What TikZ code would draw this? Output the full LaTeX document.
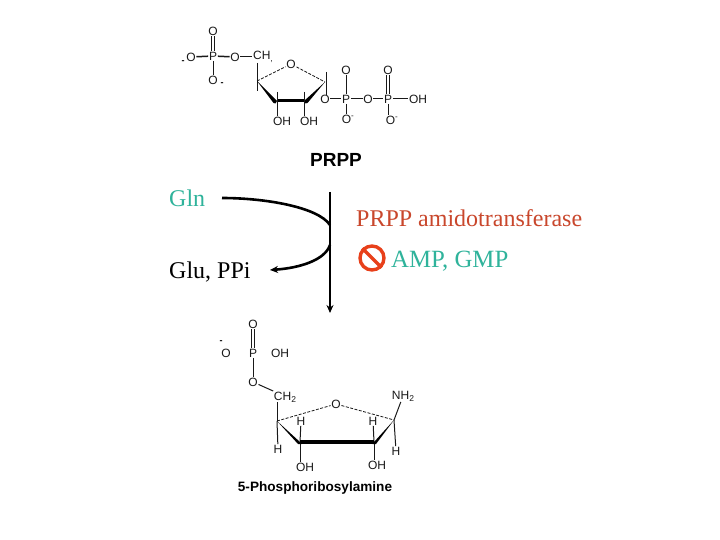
\documentclass[tikz,border=0pt]{standalone}
\usepackage{fontspec}
\setmainfont{Liberation Serif}
\setsansfont{Liberation Sans}
\usetikzlibrary{arrows.meta}
\definecolor{tealc}{HTML}{2FB39B}
\definecolor{enz}{HTML}{C9472C}
\definecolor{stopc}{HTML}{E8401A}
\newcommand{\subsc}[1]{\raisebox{-2pt}{\fontsize{8.5}{8.5}\selectfont #1}}
\tikzset{
  x=1pt,y=-1pt,
  atom/.style={inner sep=0.6pt,font=\sffamily\fontsize{12}{12}\selectfont,text=black!90},
  minusb/.style={inner sep=0pt,font=\sffamily\bfseries\fontsize{9}{9}\selectfont,text=black},
  label/.style={inner sep=0pt,font=\fontsize{24}{26}\selectfont},
  bondl/.style={draw=black!90,line width=1pt},
  dashb/.style={draw=black!90,line width=0.8pt,dash pattern=on 3pt off 1.5pt},
  heavy/.style={draw=black,line width=3.8pt},
  wedgeb/.style={fill=black,draw=none},
  rxn/.style={draw=black,line width=2.6pt},
  rxnhead/.style={-{Stealth[length=8pt,width=7pt]}},
}
\begin{document}
\begin{tikzpicture}
\useasboundingbox[fill=white] (0,0) rectangle (720,540);
% PRPP
\node[atom] (ao1) at (213,31) {O};
\node[atom] (ap1) at (213,56) {P};
\node[atom] (ao2) at (191,57) {O};
\node[minusb] (am1) at (183,62) {-};
\node[atom] (ao3) at (235,57) {O};
\node[atom] (ach) at (263,57) {CH\subsc{,}};
\node[atom] (ao4) at (213,80) {O};
\node[minusb] (am2) at (222,84) {-};
\node[atom] (aor) at (291,64) {O};
\coordinate (cl) at (257,81);
\coordinate (cr) at (325,82);
\coordinate (bl) at (277,101);
\coordinate (br) at (304,101);
\coordinate (clu) at (257,63);
\coordinate (cld) at (257,91);
\coordinate (cru) at (326,72);
\coordinate (crd) at (326,95);
\node[atom] (aoh1) at (282,121) {OH};
\node[atom] (aoh2) at (309,121) {OH};
\node[atom] (ao5) at (325,99) {O};
\node[atom] (ap2) at (346,99) {P};
\node[atom] (ao6) at (346,70) {O};
\node[atom] (ao7) at (348,119) {O\textsuperscript{-}};
\node[atom] (ao8) at (368,99) {O};
\node[atom] (ap3) at (388,99) {P};
\node[atom] (ao9) at (388,70) {O};
\node[atom] (ao10) at (392,120) {O\textsuperscript{-}};
\node[atom] (aoh3) at (418,99) {OH};
\path[bondl] ([xshift=-1.2pt]ap1.north) -- ([xshift=-1.2pt]ao1.south);
\path[bondl] ([xshift=1.2pt]ap1.north) -- ([xshift=1.2pt]ao1.south);
\path[bondl,line width=1.5pt] (ao2) -- (ap1);
\path[bondl,line width=1.5pt] (ap1) -- (ao3);
\path[bondl] (ao3) -- (ach);
\path[bondl] (ap1) -- (ao4);
\path[bondl] (clu) -- (cld);
\path[bondl] (cru) -- (crd);
\path[dashb] (cl) -- (aor);
\path[dashb] (aor) -- (cr);
\path[wedgeb] (cl) -- (bl) -- ++(-1.5,2.5) -- ++(-2,-0.5) -- cycle;
\path[wedgeb] (cr) -- (br) -- ++(1.5,2.5) -- ++(2,-0.5) -- cycle;
\path[heavy,line width=3pt] (bl) -- (br);
\path[bondl] (277,92) -- (aoh1.north -| bl);
\path[bondl] (304,92) -- (aoh2.north -| br);
\path[bondl] (ao5) -- (ap2) -- (ao8) -- (ap3) -- (aoh3);
\path[bondl] (ap2) -- (ao6);
\path[bondl] (ap2) -- (ao7.north -| ap2);
\path[bondl] ([xshift=-1.2pt]ap3.north) -- ([xshift=-1.2pt]ao9.south);
\path[bondl] ([xshift=1.2pt]ap3.north) -- ([xshift=1.2pt]ao9.south);
\path[bondl] (ap3) -- (ao10.north -| ap3);
\node[inner sep=0pt,font=\sffamily\bfseries\fontsize{19}{19}\selectfont] (prpp) at (336,160) {PRPP};
% Reaction
\coordinate (mtop) at (330,192);
\coordinate (mbot) at (330,313);
\coordinate (minA) at (330,225);
\coordinate (moutB) at (330,245);
\node[label,text=tealc,anchor=west] (gln) at (169,198) {Gln};
\coordinate (glnend) at (222,198);
\node[label,text=black,anchor=west] (glu) at (169,272) {Glu, PPi};
\coordinate (gluend) at (270,270);
\node[label,text=enz,anchor=west] (enzn) at (356,218) {PRPP amidotransferase};
\node[label,text=tealc,anchor=west,font=\fontsize{24.8}{26}\selectfont] (amp) at (391,261) {AMP, GMP};
\path[rxn,rxnhead] (mtop) -- (mbot);
\path[rxn] (glnend) .. controls (265,198) and (318,207) .. (minA);
\path[rxn,rxnhead] (moutB) .. controls (325,260) and (300,268) .. (gluend);
\node[circle,draw=stopc,line width=3.4pt,minimum size=24pt,inner sep=0pt] (stopn) at (372,258) {};
\path[draw=stopc,line width=3.4pt] (stopn.135) -- (stopn.-45);
% Product
\node[atom] (bo1) at (253,324) {O};
\node[atom] (bp) at (253,353) {P};
\node[atom] (bo2) at (226,353) {O};
\node[minusb] (bm) at (221,342) {-};
\node[atom] (boh) at (280,353) {OH};
\node[atom] (bo3) at (253,382) {O};
\node[atom] (bch) at (285,397) {CH\subsc{2}};
\node[atom] (bor) at (336,404) {O};
\node[atom] (bnh) at (403,396) {NH\subsc{2}};
\coordinate (dl) at (277,421);
\coordinate (dbl) at (300,442);
\coordinate (dbr) at (374,442);
\coordinate (dr) at (394,420);
\node[atom] (bh1) at (301,421) {H};
\node[atom] (bh2) at (373,421) {H};
\node[atom] (bh3) at (278,449) {H};
\node[atom] (bh4) at (396,451) {H};
\node[atom] (boh1) at (305,467) {OH};
\node[atom] (boh2) at (377,465) {OH};
\path[bondl] ([xshift=-1.2pt]bp.north) -- ([xshift=-1.2pt]bo1.south);
\path[bondl] ([xshift=1.2pt]bp.north) -- ([xshift=1.2pt]bo1.south);
\path[bondl] (bp) -- (bo3);
\path[bondl] (bo3) -- (bch.north west);
\path[bondl] (277,402) -- (dl);
\path[bondl] (dl) -- (bh3);
\path[bondl] (dr) -- (bnh);
\path[bondl] (dr) -- (bh4);
\path[bondl] (bh1) -- (dbl);
\path[bondl] (bh2) -- (dbr);
\path[bondl] (dbl) -- (boh1.north -| dbl);
\path[bondl] (dbr) -- (boh2.north -| dbr);
\path[dashb] (dl) -- (bor);
\path[dashb] (bor) -- (dr);
\path[wedgeb] (dl) -- (dbl) -- ++(1.5,2) -- ++(-3.5,0) -- cycle;
\path[wedgeb] (dr) -- (dbr) -- ++(-1.5,2) -- ++(3.5,0) -- cycle;
\path[heavy] (dbl) -- (dbr);
\node[inner sep=0pt,font=\sffamily\bfseries\fontsize{13.6}{14}\selectfont] (prod) at (315,488) {5-Phosphoribosylamine};
\end{tikzpicture}
\end{document}
